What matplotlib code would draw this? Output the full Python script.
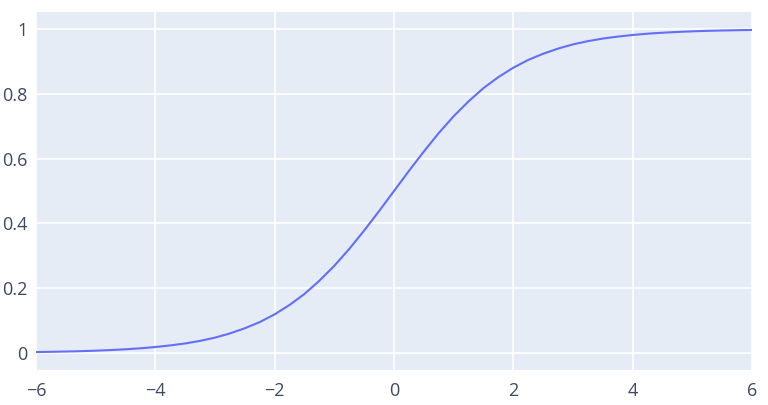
import matplotlib.pyplot as plt
from matplotlib.ticker import FuncFormatter

# values
x = [-6, -5.75, -5.5, -5.25, -5, -4.75, -4.5, -4.25, -4, -3.75, -3.5, -3.25,
     -3, -2.75, -2.5, -2.25, -2, -1.75, -1.5, -1.25, -1, -0.75, -0.5, -0.25,
     0, 0.25, 0.5, 0.75, 1, 1.25, 1.5, 1.75, 2, 2.25, 2.5, 2.75, 3, 3.25,
     3.5, 3.75, 4, 4.25, 4.5, 4.75, 5, 5.25, 5.5, 5.75, 6]
y = [0.0025, 0.0032, 0.0041, 0.0052, 0.0067, 0.0086, 0.011, 0.014, 0.018,
     0.023, 0.029, 0.037, 0.047, 0.060, 0.076, 0.095, 0.119, 0.148, 0.182,
     0.223, 0.269, 0.321, 0.378, 0.438, 0.5, 0.562, 0.622, 0.679, 0.731,
     0.777, 0.818, 0.852, 0.881, 0.905, 0.924, 0.940, 0.953, 0.963, 0.971,
     0.977, 0.982, 0.986, 0.989, 0.9914, 0.9933, 0.9948, 0.9959, 0.9968,
     0.9975]
xticks = [-6, -4, -2, 0, 2, 4, 6]
yticks = [0, 0.2, 0.4, 0.6, 0.8, 1]

plt.rcParams['font.family'] = ['Open Sans', 'DejaVu Sans']

fig = plt.figure(figsize=(7.68, 4.05), dpi=100)
ax = fig.add_axes([36 / 768, 35 / 405, 716 / 768, 358 / 405])
ax.set_facecolor('#E5ECF6')
ax.plot(x, y, color='#636EFA', lw=1.5, zorder=3)

ax.set_xlim(-6, 6)
ax.set_ylim(-0.053, 1.053)
ax.set_xticks(xticks)
ax.set_yticks(yticks)
ax.yaxis.set_major_formatter(FuncFormatter(lambda v, p: '%g' % v))
ax.xaxis.set_major_formatter(FuncFormatter(lambda v, p: ('%g' % v).replace('-', '\u2212')))
ax.grid(True, color='white', lw=1.2)
ax.set_axisbelow(True)
for s in ax.spines.values():
    s.set_visible(False)
ax.tick_params(length=0, labelsize=13, labelcolor='#3d4a5c')
ax.tick_params(axis='x', pad=9)
ax.tick_params(axis='y', pad=6)

plt.savefig('out.png', dpi=100)
